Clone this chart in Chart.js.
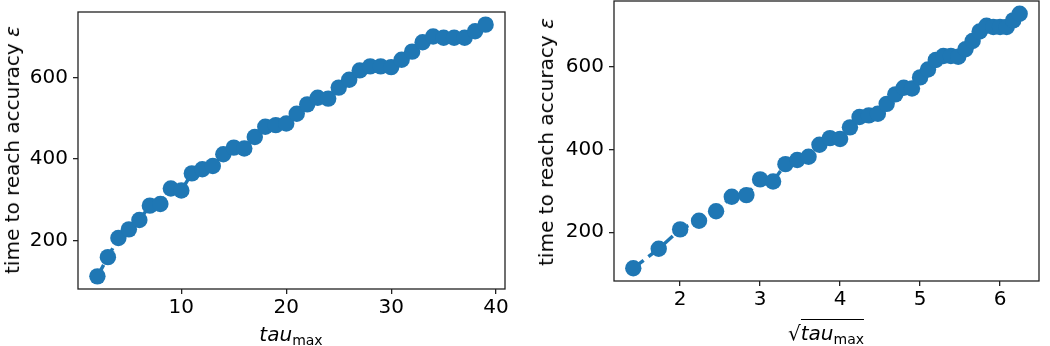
<!DOCTYPE html>
<html>
<head>
<meta charset="utf-8">
<script src="https://cdn.jsdelivr.net/npm/chart.js@4"></script>
<style>
  body { margin: 0; background: #fff; font-family: "DejaVu Sans", sans-serif; }
  #wrap { position: relative; width: 1050px; height: 346px; overflow: hidden; }
  canvas { position: absolute; top: 0; }
  .ytitle, .xtitle { position: absolute; font-size: 20px; color: #000; white-space: nowrap; }
  .ytitle { transform: translate(-50%, -50%) rotate(-90deg); }
  .xtitle { transform: translate(-50%, -50%); }
  .sub { font-size: 14px; position: relative; top: 4px; font-style: normal; }
  .rad { border-top: 1.5px solid #000; padding-top: 1px; }
</style>
</head>
<body>
<div id="wrap">
  <canvas id="left" width="520" height="346" style="left:0"></canvas>
  <canvas id="right" width="530" height="346" style="left:520px"></canvas>
  <div class="ytitle" style="left:12px; top:150px">time to reach accuracy <i>ε</i></div>
  <div class="xtitle" style="left:291px; top:334px"><i>tau</i><span class="sub">max</span></div>
  <div class="ytitle" style="left:546px; top:142px">time to reach accuracy <i>ε</i></div>
  <div class="xtitle" style="left:826px; top:333px">√<span class="rad"><i>tau</i><span class="sub">max</span></span></div>
</div>
<script>
// tau_max values and the time to reach accuracy
const tauValues = [2, 3, 4, 5, 6, 7, 8, 9, 10, 11, 12, 13, 14, 15, 16, 17, 18, 19, 20,
  21, 22, 23, 24, 25, 26, 27, 28, 29, 30, 31, 32, 33, 34, 35, 36, 37, 38, 39];
const timeValues = [113, 160, 207, 228, 251, 286, 290, 328, 323, 365, 375, 383, 412, 428, 426,
  454, 479, 483, 487, 511, 534, 550, 548, 575, 594, 617, 627, 627, 625, 643, 663, 686,
  700, 697, 697, 697, 713, 729];

const leftTicksX = [10, 20, 30, 40];
const rightTicksX = [2, 3, 4, 5, 6];
const ticksY = [200, 400, 600];

const blue = "#1f77b4";
const font = { family: "DejaVu Sans", size: 20 };

const framePlugin = {
  id: "frame",
  afterDraw(chart) {
    const a = chart.chartArea;
    const ctx = chart.ctx;
    ctx.save();
    ctx.strokeStyle = "#222";
    ctx.lineWidth = 1.3;
    ctx.strokeRect(a.left, a.top, a.right - a.left, a.bottom - a.top);
    ctx.restore();
  },
};

function makeChart(id, xs, xTicks, xMin, xMax, sizes) {
  const points = xs.map((x, i) => ({ x: x, y: timeValues[i] }));
  return new Chart(document.getElementById(id), {
    type: "line",
    data: {
      datasets: [
        {
          data: points,
          borderColor: blue,
          backgroundColor: blue,
          borderWidth: 3.5,
          borderDash: [13, 6],
          pointRadius: 8.2,
          pointBorderWidth: 0,
          pointBackgroundColor: blue,
          tension: 0,
        },
      ],
    },
    options: {
      responsive: false,
      animation: false,
      events: [],
      layout: {
        autoPadding: false,
        padding: { top: sizes.top, right: sizes.right, left: 0, bottom: 0 },
      },
      plugins: { legend: { display: false }, tooltip: { enabled: false } },
      scales: {
        x: {
          type: "linear",
          min: xMin,
          max: xMax,
          afterBuildTicks: (s) => { s.ticks = xTicks.map((v) => ({ value: v })); },
          afterFit: (s) => {
            s.height = sizes.xHeight;
            s.paddingLeft = 0;
            s.paddingRight = 0;
          },
          ticks: { font: font, color: "#000", padding: 2, maxRotation: 0 },
          grid: { drawOnChartArea: false, drawTicks: true, tickLength: 5, color: "#222", lineWidth: 1.3 },
          border: { display: false },
        },
        y: {
          min: 82,
          max: 760,
          afterBuildTicks: (s) => { s.ticks = ticksY.map((v) => ({ value: v })); },
          afterFit: (s) => {
            s.width = sizes.yWidth;
            s.paddingTop = 0;
            s.paddingBottom = 0;
          },
          ticks: { font: font, color: "#000", padding: 5 },
          grid: { drawOnChartArea: false, drawTicks: true, tickLength: 5, color: "#222", lineWidth: 1.3 },
          border: { display: false },
        },
      },
    },
    plugins: [framePlugin],
  });
}

makeChart("left", tauValues, leftTicksX, 0.15, 40.85,
  { top: 12, right: 15, xHeight: 57, yWidth: 78 });
makeChart("right", tauValues.map((t) => Math.sqrt(t)), rightTicksX, 1.173, 6.487,
  { top: 1, right: 11, xHeight: 65, yWidth: 94 });
</script>
</body>
</html>
